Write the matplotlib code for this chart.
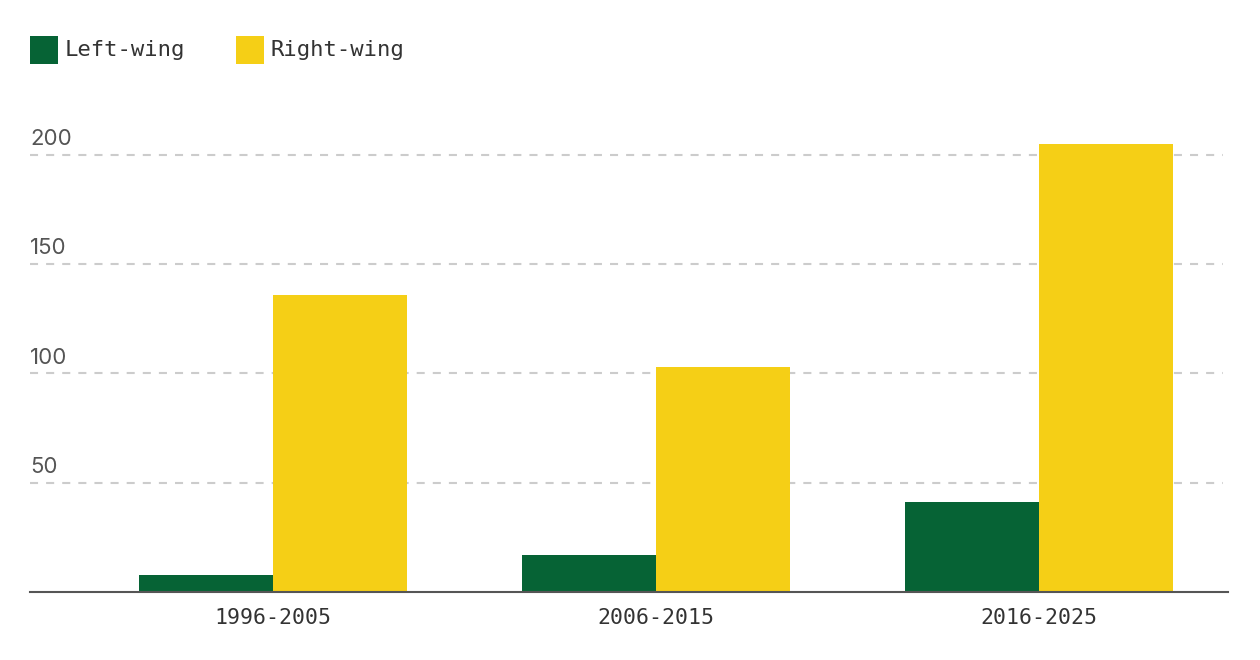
"""Left-wing vs right-wing counts by decade."""

import matplotlib

matplotlib.use("Agg")
import matplotlib.pyplot as plt
from matplotlib.patches import Rectangle
import numpy as np

periods = ["1996-2005", "2006-2015", "2016-2025"]
series_names = ["Left-wing", "Right-wing"]
left_wing = [8, 17, 41]
right_wing = [136, 103, 205]
yticks = [50, 100, 150, 200]

colors = ["#066335", "#F5CF16"]
mono = "DejaVu Sans Mono"
sans = ["Inter", "DejaVu Sans"]

plt.rcParams["lines.scale_dashes"] = False

fig = plt.figure(figsize=(12.6, 6.6), dpi=100)
ax = fig.add_axes([30 / 1260, 1 - 592 / 660, 1198 / 1260, 472 / 660])

x = np.arange(len(periods))
width = 0.35
ax.bar(x - width / 2, left_wing, width, color=colors[0], zorder=3, linewidth=0)
ax.bar(x + width / 2, right_wing, width, color=colors[1], zorder=3, linewidth=0)

ax.set_xlim(-0.634, 2.493)
ax.set_ylim(0, 216)

# dashed gridlines, stopping a bit before the right edge
for v in yticks:
    ax.plot([0, 1193 / 1198], [v, v], transform=ax.get_yaxis_transform(),
            color="#cccccc", linewidth=1.5, dashes=(5.8, 5.8), zorder=1)
    ax.annotate(str(v), xy=(0, v), xycoords=ax.get_yaxis_transform(),
                xytext=(0, 7), textcoords="offset points",
                ha="left", va="baseline", fontsize=16, color="#555555",
                family=sans)

ax.set_yticks([])
ax.set_xticks(x)
ax.set_xticklabels(periods, fontsize=15.5, family=mono, color="#333333")
ax.tick_params(axis="x", length=0, pad=11.5)

for side in ["top", "right", "left"]:
    ax.spines[side].set_visible(False)
ax.spines["bottom"].set_color("#555555")
ax.spines["bottom"].set_linewidth(1.5)
ax.spines["bottom"].set_zorder(4)

# legend along the top
legend_x = [30, 236]
for lx, name, c in zip(legend_x, series_names, colors):
    fig.patches.append(Rectangle((lx / 1260, 1 - 64 / 660), 28 / 1260, 28 / 660,
                                 transform=fig.transFigure, color=c, linewidth=0))
    fig.text((lx + 35) / 1260, 1 - 50 / 660, name, ha="left", va="center",
             fontsize=16, family=mono, color="#333333")

fig.savefig("out.png", dpi=100)
